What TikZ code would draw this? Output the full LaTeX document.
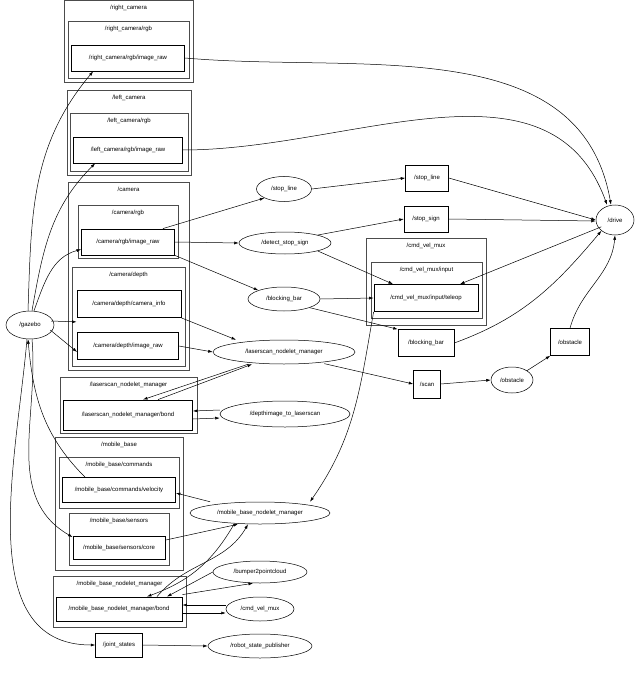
\documentclass[tikz,border=0pt]{standalone}
\usepackage{fontspec}
\setmainfont{Liberation Sans}
\usetikzlibrary{shapes.geometric,arrows.meta,fit}
\begin{document}
\begin{tikzpicture}[x=1pt,y=-1pt,
  every node/.style={font=\fontsize{6}{7}\selectfont},
  cl/.style={draw=black!70,line width=0.5pt,inner sep=0pt},
  tp/.style={draw,line width=0.8pt,rectangle,inner sep=1pt},
  nd/.style={draw,line width=0.5pt,ellipse,inner sep=0pt},
  e/.style={line width=0.5pt,-{Latex[length=4.5pt,width=3pt]}}]
\fill[white] (0,0) rectangle (637,676);
\useasboundingbox (0,0) rectangle (637,676);
\newcommand{\clu}[6]{\node[cl,fit={(#2,#3)(#4,#5)},label={[anchor=north,yshift=-2pt,font=\fontsize{6}{7}\selectfont]north:#6}] (#1) {};}
% clusters
\clu{crc}{64}{0}{193}{82}{/right\_camera}
\clu{crcr}{68}{21}{189}{78}{/right\_camera/rgb}
\clu{clc}{67}{90}{191}{175}{/left\_camera}
\clu{clcr}{70}{113}{188}{171}{/left\_camera/rgb}
\clu{cc}{68}{182}{189}{370}{/camera}
\clu{ccr}{78}{205}{178}{258}{/camera/rgb}
\clu{ccd}{72}{267}{185}{366}{/camera/depth}
\clu{cln}{60}{377}{197}{433}{/laserscan\_nodelet\_manager}
\clu{cmb}{55}{437}{183}{570}{/mobile\_base}
\clu{cmbc}{59}{457}{179}{508}{/mobile\_base/commands}
\clu{cmbs}{69}{513}{169}{565}{/mobile\_base/sensors}
\clu{cmbn}{53}{576}{186}{627}{/mobile\_base\_nodelet\_manager}
\clu{ccv}{366}{238}{486}{325}{/cmd\_vel\_mux}
\clu{ccvi}{371}{262}{482}{318}{/cmd\_vel\_mux/input}
% topics
\node[tp,minimum width=113,minimum height=26] (rimg) at (128,58) {/right\_camera/rgb/image\_raw};
\node[tp,minimum width=109,minimum height=26] (limg) at (128,150) {/left\_camera/rgb/image\_raw};
\node[tp,minimum width=93,minimum height=26] (cimg) at (128,242) {/camera/rgb/image\_raw};
\node[tp,minimum width=104,minimum height=27] (cinfo) at (129,304) {/camera/depth/camera\_info};
\node[tp,minimum width=101,minimum height=27] (dimg) at (128,346) {/camera/depth/image\_raw};
\node[tp,minimum width=129,minimum height=30] (lbond) at (128,415) {/laserscan\_nodelet\_manager/bond};
\node[tp,minimum width=113,minimum height=25] (vel) at (119,490) {/mobile\_base/commands/velocity};
\node[tp,minimum width=92,minimum height=23] (core) at (119,548) {/mobile\_base/sensors/core};
\node[tp,minimum width=126,minimum height=24] (mbond) at (119,609) {/mobile\_base\_nodelet\_manager/bond};
\node[draw,line width=0.5pt,minimum width=47,minimum height=24] (js) at (119,645) {/joint\_states};
\node[draw,line width=0.5pt,minimum width=43,minimum height=26] (tsl) at (427,178) {/stop\_line};
\node[draw,line width=0.5pt,minimum width=44,minimum height=26] (tss) at (426,219) {/stop\_sign};
\node[tp,minimum width=104,minimum height=27] (tele) at (426,298) {/cmd\_vel\_mux/input/teleop};
\node[draw,line width=0.5pt,minimum width=56,minimum height=27] (tbb) at (426,343) {/blocking\_bar};
\node[draw,line width=0.5pt,minimum width=27,minimum height=28] (scan) at (427,384) {/scan};
\node[draw,line width=0.5pt,minimum width=39,minimum height=27] (tob) at (570,342) {/obstacle};
% nodes
\node[nd,minimum width=48,minimum height=28] (gz) at (30,325) {/gazebo};
\node[nd,minimum width=55,minimum height=25] (nsl) at (284,189) {/stop\_line};
\node[nd,minimum width=92,minimum height=22] (nds) at (285,243) {/detect\_stop\_sign};
\node[nd,minimum width=72,minimum height=24] (nbb) at (284,299) {/blocking\_bar};
\node[nd,minimum width=142,minimum height=24] (nln) at (284,352) {/laserscan\_nodelet\_manager};
\node[nd,minimum width=130,minimum height=26] (ndl) at (285,414) {/depthimage\_to\_laserscan};
\node[nd,minimum width=140,minimum height=22] (nmb) at (260,513) {/mobile\_base\_nodelet\_manager};
\node[nd,minimum width=94,minimum height=22] (nbp) at (260,572) {/bumper2pointcloud};
\node[nd,minimum width=68,minimum height=24] (ncv) at (260,609) {/cmd\_vel\_mux};
\node[nd,minimum width=104,minimum height=24] (nrs) at (260,646) {/robot\_state\_publisher};
\node[nd,minimum width=38,minimum height=30] (drv) at (615,220) {/drive};
\node[nd,minimum width=42,minimum height=26] (nob) at (512,380) {/obstacle};
% gazebo edges
\draw[e] ([xshift=-2]gz.north) to[out=88,in=230] ([xshift=22]rimg.south west);
\draw[e] ([xshift=2]gz.north) to[out=80,in=225] ([xshift=22]limg.south west);
\draw[e] ([xshift=4]gz.north) to[out=70,in=195] ([yshift=6]cimg.south west);
\draw[e] (gz.east) ++(-3,-4) -- ([yshift=-4]cinfo.south west);
\draw[e] (gz.east) ++(-4,5) -- ([yshift=-6]dimg.west);
\draw[e] ([xshift=-34]vel.north) to[out=135,in=275] ([xshift=-2]gz.south);
\draw[e] ([xshift=2]gz.south) to[out=275,in=150] ([yshift=-1]core.north west);
\draw[e] ([xshift=-3]gz.south) to[out=265,in=180] (js.west);
% to drive
\draw[e] (rimg.east) to[out=-5,in=100] ([xshift=-4]drv.north);
\draw[e] (limg.east) to[out=0,in=110] ([xshift=-8]drv.north);
\draw[e] (tsl.east) -- (drv.west);
\draw[e] (tss.east) -- ([yshift=-1]drv.west);
\draw[e] (tbb.east) to[out=20,in=230] (drv.south west);
\draw[e] (tob.north) to[out=75,in=265] (drv.south);
\draw[e] ([yshift=4]drv.south west) -- ([xshift=34]tele.north);
% camera rgb
\draw[e] ([xshift=-12]cimg.north east) -- (nsl.south west);
\draw[e] (cimg.east) -- (nds.west);
\draw[e] (cimg.south east) -- (nbb.north west);
\draw[e] (nsl.east) -- (tsl.west);
\draw[e] (nds.north east) -- (tss.west);
\draw[e] (nds.south east) -- ([xshift=-33]tele.north);
\draw[e] (nbb.east) -- (tele.west);
\draw[e] (nbb.south east) -- (tbb.north west);
% laserscan
\draw[e] (cinfo.south east) -- ([xshift=-48]nln.north);
\draw[e] (dimg.east) -- (nln.west);
\draw[e] ([xshift=-36]nln.south) -- ([xshift=15]lbond.north);
\draw[e] ([xshift=30]lbond.north) -- ([xshift=-32]nln.south);
\draw[e] ([yshift=4]ndl.west) -- ([yshift=4]lbond.east);
\draw[e] ([yshift=-4]lbond.east) -- ([yshift=-4]ndl.west);
\draw[e] (nln.south east) ++(-10,3) -- (scan.west);
\draw[e] (scan.east) -- (nob.west);
\draw[e] (nob.north east) -- (tob.south west);
% mobile base
\draw[e] (tele.south west) to[out=260,in=55] ([xshift=50]nmb.north);
\draw[e] ([xshift=-50]nmb.north) -- ([yshift=-3]vel.east);
\draw[e] ([yshift=-4]core.north east) -- ([xshift=-22]nmb.south);
\draw[e] ([xshift=-26]nmb.south) to[out=240,in=20] ([xshift=28]mbond.north);
\draw[e] ([xshift=38]mbond.north) to[out=50,in=240] ([xshift=-12]nmb.south);
\draw[e] (nbp.west) -- ([xshift=48]mbond.north);
\draw[e] ([yshift=2]mbond.north east) -- ([xshift=-7]nbp.south);
\draw[e] ([yshift=4]ncv.west) -- ([yshift=4]mbond.east);
\draw[e] ([yshift=-4]mbond.east) -- ([yshift=-4]ncv.west);
\draw[e] (js.east) -- (nrs.west);
\end{tikzpicture}
\end{document}
